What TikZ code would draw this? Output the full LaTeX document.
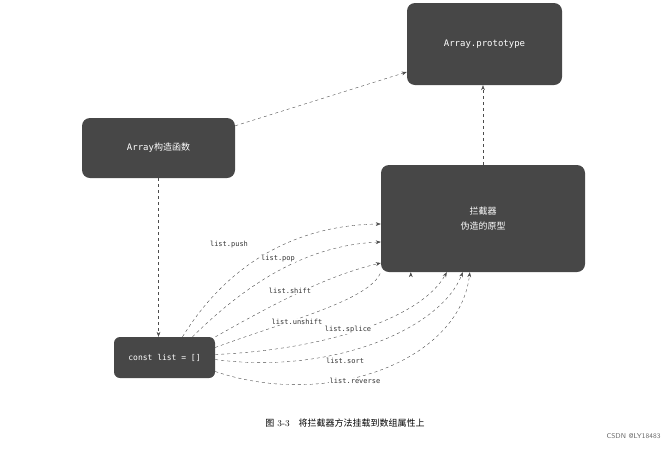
\documentclass[tikz,border=0pt]{standalone}
\usepackage{fontspec}
\setmonofont{DejaVu Sans Mono}
\newfontfamily\cjk{Noto Sans CJK SC}
\usetikzlibrary{arrows.meta}
\begin{document}
\begin{tikzpicture}[x=1pt,y=-1pt,
  box/.style={draw=none,fill=black!72,rounded corners=8pt,text=white,align=center,font=\ttfamily\small},
  con/.style={dashed,thin,black!70,-{Stealth[length=5pt]}},
  lab/.style={font=\ttfamily\scriptsize,text=black!80,fill=white,inner sep=0.5pt}]
\useasboundingbox (0,0) rectangle (667,448);
\node[box,minimum width=155pt,minimum height=82pt] (proto) at (484.5,44) {Array.prototype};
\node[box,minimum width=153pt,minimum height=60pt] (ctor) at (158.5,148) {Array{\cjk 构造函数}};
\node[box,minimum width=204pt,minimum height=107pt] (icpt) at (483,218.5) {{\cjk 拦截器}\\[4pt]{\cjk 伪造的原型}};
\node[box,minimum width=101pt,minimum height=41pt,rounded corners=6pt,font=\ttfamily\footnotesize] (list) at (164.5,357.5) {const list = []};
\draw[con] (ctor.north east) ++(0,8) -- (proto.west |- 0,72);
\draw[con] (ctor.south) -- (ctor.south |- list.north);
\draw[con] (icpt.north) -- (icpt.north |- proto.south);
\draw[con] (list.north) ++(18,0) coordinate (s1) .. controls (230,260) and (300,225) .. (icpt.west |- 0,224);
\draw[con] (list.north) ++(28,0) coordinate (s2) .. controls (250,280) and (310,245) .. (icpt.west |- 0,242);
\draw[con] (list.north east) ++(-5,3) coordinate (s3) .. controls (280,300) and (330,275) .. (icpt.west |- 0,263);
\draw[con] (list.east) ++(0,-10) coordinate (s4) .. controls (290,320) and (370,300) .. (icpt.south west) ++(30,0) coordinate (e4);
\draw[con] (list.east) ++(0,-3) coordinate (s5) .. controls (320,350) and (420,320) .. ([xshift=66pt]icpt.south west);
\draw[con] (list.east) ++(0,2) coordinate (s6) .. controls (330,375) and (440,330) .. ([xshift=82pt]icpt.south west);
\draw[con] (list.east) ++(0,14) coordinate (s7) .. controls (330,410) and (460,360) .. ([xshift=89pt]icpt.south west);
\node[lab] (l1) at (229,245) {list.push};
\node[lab] (l2) at (278,259) {list.pop};
\node[lab] (l3) at (290,291) {list.shift};
\node[lab] (l4) at (297,322) {list.unshift};
\node[lab] (l5) at (348,330) {list.splice};
\node[lab] (l6) at (345,361) {list.sort};
\node[lab] (l7) at (355,381) {list.reverse};
\node[font=\small] (cap) at (345,423) {{\cjk 图} 3-3\quad{\cjk 将拦截器方法挂载到数组属性上}};
\node[font=\sffamily\scriptsize,text=black!60,anchor=east] (wm) at (664,436) {CSDN @LY18483};
\end{tikzpicture}
\end{document}
